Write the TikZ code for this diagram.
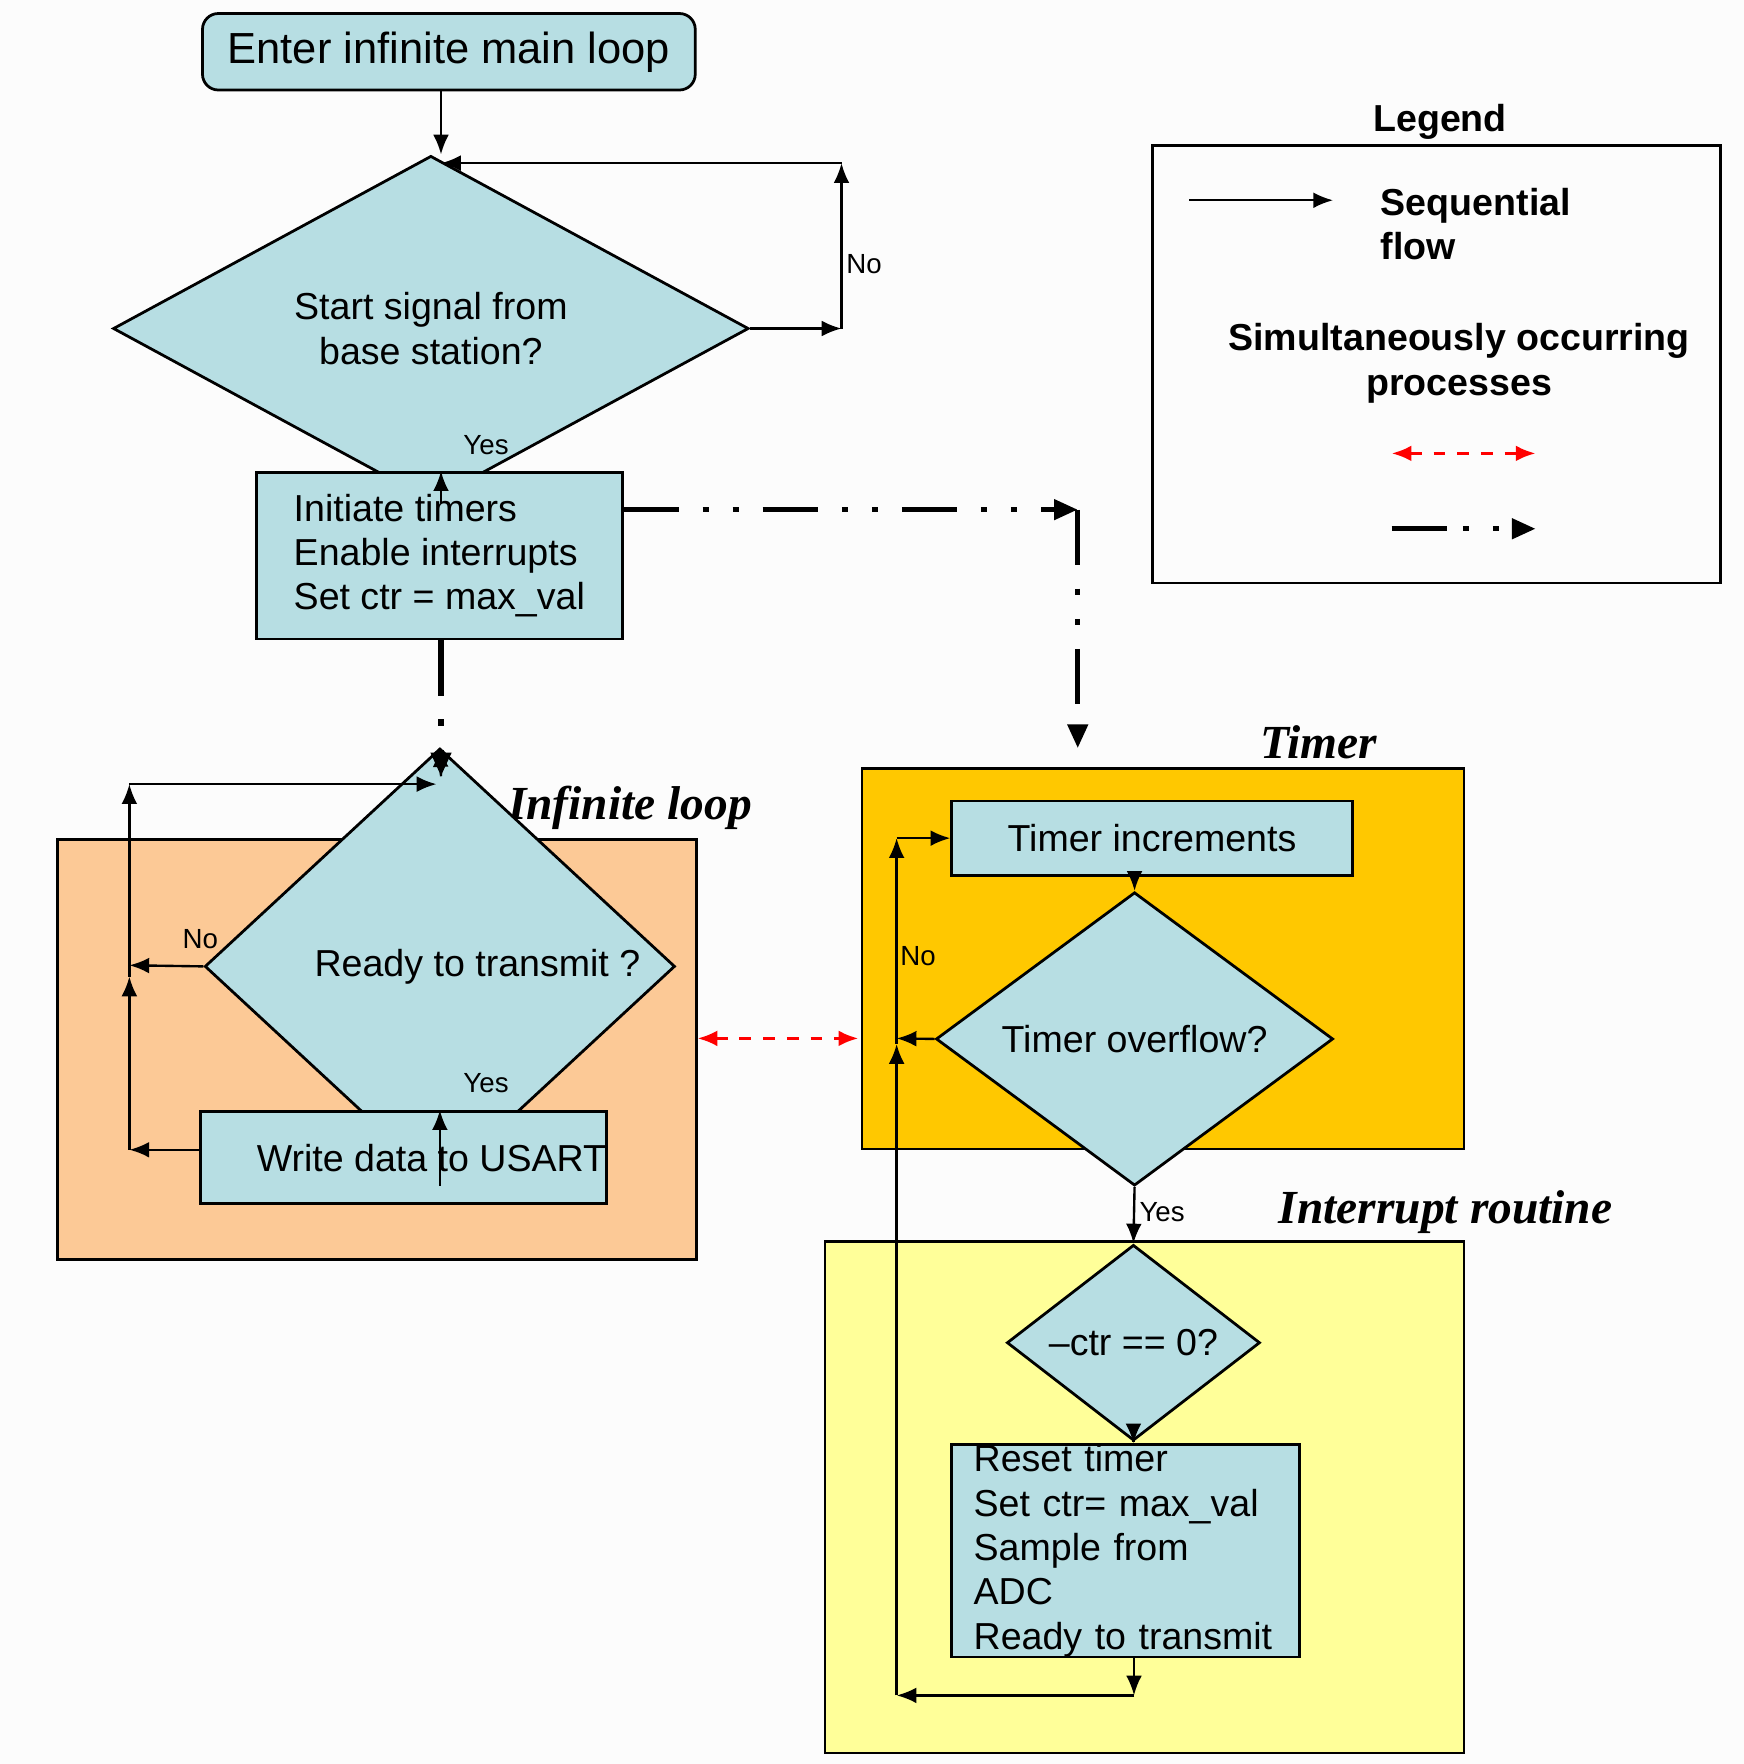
\documentclass[tikz,border=0pt]{standalone}
\usepackage{fontspec}
\setmainfont{Liberation Sans}
\newfontfamily\tms{Liberation Serif}
\usetikzlibrary{arrows.meta,shapes.geometric}
\definecolor{tealf}{HTML}{B7DEE3}
\definecolor{orng}{HTML}{FCC996}
\definecolor{gold}{HTML}{FFC800}
\definecolor{yel}{HTML}{FFFF99}
\begin{document}
\begin{tikzpicture}[x=0.1mm,y=-0.1mm,
  box/.style={draw,line width=0.7pt,fill=tealf,inner sep=0},
  dia/.style={draw,line width=0.7pt,fill=tealf,diamond,inner sep=0},
  arr/.style={line width=0.6pt,-{Latex[length=5pt,width=4pt]}},
  ln/.style={line width=0.6pt},
  dd/.style={line width=1.3pt,dash pattern=on 14pt off 6pt on 1.6pt off 6pt on 1.6pt off 6pt,-{Triangle[length=6pt,width=5pt]}},
  simu/.style={draw=red,line width=0.8pt,dash pattern=on 3pt off 3pt,{Latex[length=5pt,width=4pt,fill=red]}-{Latex[length=5pt,width=4pt,fill=red]}},
  lab/.style={font=\fontsize{7}{8}\selectfont},
  ttl/.style={font=\tms\bfseries\itshape\fontsize{12}{14}\selectfont},
  txt/.style={font=\fontsize{9.5}{11.2}\selectfont}]
\fill[white!98!gray] (0,0) rectangle (1550,1568);
\useasboundingbox (0,0) rectangle (1550,1568);
% regions
\node[draw,fill=orng,minimum width=568*0.1mm,minimum height=373*0.1mm,anchor=north west,line width=0.7pt] (loopbox) at (50,745) {};
\node[draw,fill=gold,minimum width=535*0.1mm,minimum height=338*0.1mm,anchor=north west,line width=0.7pt] (timerbox) at (765,682) {};
\node[draw,fill=yel,minimum width=568*0.1mm,minimum height=455*0.1mm,anchor=north west,line width=0.7pt] (intbox) at (732,1102) {};
\node[ttl] (tl1) at (560,718) {Infinite loop};
\node[ttl] (tl2) at (1172,660) {Timer};
\node[ttl] (tl3) at (1285,1077) {Interrupt routine};
% nodes
\node[box,rounded corners=4pt,minimum width=438*0.1mm,minimum height=68*0.1mm,font=\fontsize{11}{13}\selectfont] (enter) at (399,46) {Enter infinite main loop};
\node[dia,minimum width=565*0.1mm,minimum height=160*0.1mm,txt,align=center] (d1) at (383,292) {Start signal from\\base station?};
\node[box,minimum width=325*0.1mm,minimum height=148*0.1mm,txt,align=left] (init) at (390.5,494) {Initiate timers\\Enable interrupts\\Set ctr = max\_val};
\node[dia,minimum width=418*0.1mm,minimum height=162*0.1mm,txt] (d2) at (391,859) {\hspace*{2em}Ready to transmit ?};
\node[box,minimum width=357*0.1mm,minimum height=82*0.1mm,txt] (write) at (358.5,1029) {\hspace*{1.5em}Write data to USART};
\node[box,minimum width=356*0.1mm,minimum height=66*0.1mm,txt] (tinc) at (1024,745) {Timer increments};
\node[dia,minimum width=353*0.1mm,minimum height=127*0.1mm,txt] (d3) at (1008.5,923.5) {Timer overflow?};
\node[dia,minimum width=225*0.1mm,minimum height=127*0.1mm,txt] (d4) at (1007.5,1193.5) {--ctr == 0?};
\node[box,minimum width=309*0.1mm,minimum height=163*0.1mm,txt,align=left,text width=270*0.1mm] (reset) at (1000.5,1378.5) {Reset timer\\Set ctr= max\_val\\Sample from ADC\\Ready to transmit};
% coordinates
\coordinate (a1) at (392,145); \coordinate (a2) at (748,292); \coordinate (a3) at (748,145);
\coordinate (b1) at (958,453); \coordinate (b2) at (958,665);
\coordinate (c1) at (392,690);
\coordinate (e1) at (115,858); \coordinate (e2) at (115,1022); \coordinate (e3) at (115,697); \coordinate (e4) at (388,697);
\coordinate (f1) at (797,923); \coordinate (f2) at (797,745); \coordinate (f3) at (1008,1507); \coordinate (f4) at (797,1507);
\coordinate (r1) at (620,923); \coordinate (r2) at (763,923);
% connectors
\draw[arr] (enter.south -| a1) -- (d1.north -| a1);
\draw[arr] (d1.east) -- (a2);
\draw[arr] (a2) -- (a3);
\draw[arr] (a3) -- (a1);
\node[lab] at (768,235) {No};
\draw[arr] (d1.south -| a1) -- (init.north -| a1);
\node[lab] at (432,396) {Yes};
\draw[dd] (init.east |- b1) -- (b1);
\draw[dd] (b1) -- (b2);
\draw[dd] (init.south -| a1) -- (c1);
\draw[arr] (c1) -- (d2.north);
\draw[arr] (d2.west) -- (e1);
\node[lab] at (178,835) {No};
\draw[arr] (e2) -- (115,868);
\draw[ln] (115,868) -- (e1);
\draw[arr] (e1) -- (e3);
\draw[arr] (e3) -- (e4);
\draw[arr] (write.west |- e2) -- (e2);
\draw[arr] (d2.south) -- (write.north -| d2.south);
\node[lab] at (432,963) {Yes};
\draw[simu] (r1) -- (r2);
\draw[arr] (tinc.south -| d3.north) -- (d3.north);
\draw[arr] (d3.west) -- (f1);
\node[lab] at (816,850) {No};
\draw[arr] (d3.south) -- (d4.north);
\node[lab] at (1033,1077) {Yes};
\draw[arr] (d4.south) -- (reset.north -| d4.south);
\draw[arr] (reset.south -| f3) -- (f3);
\draw[arr] (f3) -- (f4);
\draw[arr] (f4) -- (797,928);
\draw[ln] (797,928) -- (f1);
\draw[arr] (f1) -- (f2);
\draw[arr] (f2) -- (tinc.west |- f2);
% legend
\node[draw,line width=0.7pt,minimum width=505*0.1mm,minimum height=389*0.1mm,anchor=north west] (leg) at (1023,128) {};
\node[font=\bfseries\fontsize{9.5}{11}\selectfont] (legt) at (1280,108) {Legend};
\coordinate (l1) at (1057,178); \coordinate (l2) at (1185,178);
\draw[arr] (l1) -- (l2);
\node[font=\bfseries\fontsize{9.5}{11.2}\selectfont,align=left,anchor=north west] (seq) at (1215,155) {Sequential\\flow};
\node[font=\bfseries\fontsize{9.5}{11.2}\selectfont,align=center] (sim) at (1297,323) {Simultaneously occurring\\processes};
\coordinate (l3) at (1237,403); \coordinate (l4) at (1365,403);
\draw[simu] (l3) -- (l4);
\coordinate (l5) at (1237,470); \coordinate (l6) at (1365,470);
\draw[dd,dash pattern=on 14pt off 4pt on 1.6pt off 6pt on 1.6pt off 6pt] (l5) -- (l6);
\end{tikzpicture}
\end{document}
